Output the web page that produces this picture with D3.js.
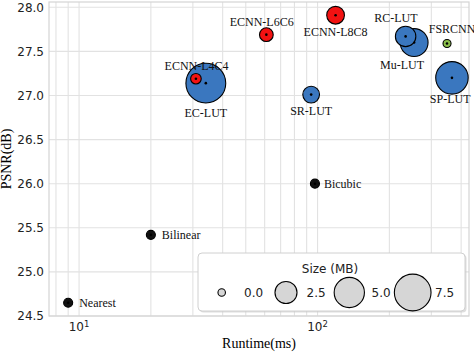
<!DOCTYPE html>
<meta charset="utf-8">
<script src="https://d3js.org/d3.v7.min.js"></script>
<style>
  body { margin: 0; background: #fff; }
</style>
<div id="chart"></div>
<script>

// data
var methods = ["Nearest", "Bilinear", "Bicubic", "SR-LUT", "Mu-LUT", "RC-LUT", "SP-LUT", "EC-LUT", "ECNN-L4C4", "ECNN-L6C6", "ECNN-L8C8", "FSRCNN"]
var runtime = [9.0, 20.0, 97.5, 94, 254, 234, 366, 34, 30.9, 61, 119, 349]
var psnr    = [24.65, 25.42, 26.00, 27.01, 27.60, 27.67, 27.20, 27.14, 27.19, 27.69, 27.91, 27.59]
var sizeMB  = [0.15, 0.15, 0.15, 1.3, 4.2, 2.1, 5.8, 8.9, 0.33, 0.77, 1.5, 0.05]
var kind    = ["interp", "interp", "interp", "lut", "lut", "lut", "lut", "lut", "ecnn", "ecnn", "ecnn", "cnn"]

var legendSizes = [0.0, 2.5, 5.0, 7.5]
var yTicks = [24.5, 25.0, 25.5, 26.0, 26.5, 27.0, 27.5, 28.0]
var xMajor = [10, 100]
var xMinor = [8, 9, 20, 30, 40, 50, 60, 70, 80, 90, 200, 300, 400]

var colors = { interp: "#111111", lut: "#3a77bf", ecnn: "#f21212", cnn: "#8cc04b" }

// where each label sits relative to its marker
var labelPos = {
  "Nearest":   { dx: 11,  dy: 4.5,  anchor: "start" },
  "Bilinear":  { dx: 11,  dy: 4.5,  anchor: "start" },
  "Bicubic":   { dx: 9,   dy: 4.5,  anchor: "start" },
  "SR-LUT":    { dx: 0,   dy: 20,   anchor: "middle" },
  "Mu-LUT":    { dx: -12, dy: 26.6, anchor: "middle" },
  "RC-LUT":    { dx: -9.7, dy: -14, anchor: "middle" },
  "SP-LUT":    { dx: -1.8, dy: 25.6, anchor: "middle" },
  "EC-LUT":    { dx: 0,   dy: 33.4, anchor: "middle" },
  "ECNN-L4C4": { dx: 0.7, dy: -8.7, anchor: "middle" },
  "ECNN-L6C6": { dx: -4.7, dy: -8.6, anchor: "middle" },
  "ECNN-L8C8": { dx: 0,   dy: 20.7, anchor: "middle" },
  "FSRCNN":    { dx: -18.3, dy: -10, anchor: "start" }
}

var data = methods.map(function(m, i) {
  return { name: m, t: runtime[i], p: psnr[i], s: sizeMB[i], k: kind[i] }
})

var W = 474, H = 353
var plot = { left: 49, right: 469, top: 2, bottom: 316 }

var svg = d3.select("#chart")
  .append("svg")
    .attr("width", W)
    .attr("height", H)

var x = d3.scaleLog()
  .domain([7.48, 431.5])
  .range([plot.left, plot.right])

var y = d3.scaleLinear()
  .domain([24.5, 28.06])
  .range([plot.bottom, plot.top])

// marker area grows with size
function rad(s) { return Math.sqrt(14 + 43 * s) }

var gridColor = "#e2e2e2"

// grid
svg.append("g").selectAll("line")
  .data(xMinor.concat(xMajor))
  .enter().append("line")
    .attr("x1", function(d) { return x(d) })
    .attr("x2", function(d) { return x(d) })
    .attr("y1", plot.top)
    .attr("y2", plot.bottom)
    .attr("stroke", gridColor)
    .attr("stroke-width", 1.1)

svg.append("g").selectAll("line")
  .data(yTicks)
  .enter().append("line")
    .attr("x1", plot.left)
    .attr("x2", plot.right)
    .attr("y1", function(d) { return y(d) })
    .attr("y2", function(d) { return y(d) })
    .attr("stroke", gridColor)
    .attr("stroke-width", 1.1)

// frame
svg.append("rect")
  .attr("x", plot.left)
  .attr("y", plot.top)
  .attr("width", plot.right - plot.left)
  .attr("height", plot.bottom - plot.top)
  .attr("fill", "none")
  .attr("stroke", "#d4d4d4")
  .attr("stroke-width", 1.2)

// y tick labels
svg.append("g").selectAll("text")
  .data(yTicks)
  .enter().append("text")
    .attr("x", plot.left - 5)
    .attr("y", function(d) { return y(d) })
    .attr("dy", "0.36em")
    .attr("text-anchor", "end")
    .style("font-family", "DejaVu Sans")
    .style("font-size", "12px")
    .style("fill", "#222")
    .text(function(d) { return d.toFixed(1) })

// x tick labels (10^n)
var xt = svg.append("g").selectAll("text")
  .data(xMajor)
  .enter().append("text")
    .attr("x", function(d) { return x(d) })
    .attr("y", plot.bottom + 15)
    .attr("text-anchor", "middle")
    .style("font-family", "DejaVu Sans")
    .style("font-size", "12px")
    .style("fill", "#222")
xt.append("tspan").text("10")
xt.append("tspan")
  .attr("dy", "-0.45em")
  .style("font-size", "8.5px")
  .text(function(d) { return Math.round(Math.log10(d)) })

// axis titles
svg.append("text")
  .attr("x", (plot.left + plot.right) / 2)
  .attr("y", 348)
  .attr("text-anchor", "middle")
  .style("font-family", "Liberation Serif")
  .style("font-size", "14px")
  .text("Runtime(ms)")

svg.append("text")
  .attr("transform", "translate(11," + ((plot.top + plot.bottom) / 2) + ") rotate(-90)")
  .attr("text-anchor", "middle")
  .style("font-family", "Liberation Serif")
  .style("font-size", "14px")
  .text("PSNR(dB)")

// markers
var pts = svg.append("g").selectAll("g")
  .data(data)
  .enter().append("g")
    .attr("transform", function(d) { return "translate(" + x(d.t) + "," + y(d.p) + ")" })

pts.append("circle")
  .attr("r", function(d) { return rad(d.s) })
  .attr("fill", function(d) { return colors[d.k] })
  .attr("stroke", "#000")
  .attr("stroke-width", 1.1)

pts.append("circle")
  .attr("r", 1.3)
  .attr("fill", "#000")

// labels
svg.append("g").selectAll("text")
  .data(data)
  .enter().append("text")
    .attr("x", function(d) { return x(d.t) + labelPos[d.name].dx })
    .attr("y", function(d) { return y(d.p) + labelPos[d.name].dy })
    .attr("text-anchor", function(d) { return labelPos[d.name].anchor })
    .style("font-family", "Liberation Serif")
    .style("font-size", "12px")
    .style("fill", "#111")
    .text(function(d) { return d.name })

// size legend
var lg = svg.append("g")

lg.append("rect")
  .attr("x", 199.5)
  .attr("y", 254.5)
  .attr("width", 267)
  .attr("height", 58)
  .attr("rx", 4)
  .attr("fill", "#c8c8c8")
  .attr("opacity", 0.6)

lg.append("rect")
  .attr("x", 198)
  .attr("y", 253)
  .attr("width", 267)
  .attr("height", 58)
  .attr("rx", 4)
  .attr("fill", "#fff")
  .attr("stroke", "#d0d0d0")
  .attr("stroke-width", 1)

lg.append("text")
  .attr("x", 330)
  .attr("y", 269)
  .attr("dy", "0.36em")
  .attr("text-anchor", "middle")
  .style("font-family", "DejaVu Sans")
  .style("font-size", "12px")
  .style("fill", "#222")
  .text("Size (MB)")

var legX = [221.7, 286, 349.3, 412.7]
var legTextX = [244, 306.5, 371.5, 435]
var item = lg.selectAll("g.item")
  .data(legendSizes)
  .enter().append("g")
    .attr("class", "item")

item.append("circle")
  .attr("cx", function(d, i) { return legX[i] })
  .attr("cy", 292.5)
  .attr("r", function(d) { return rad(d) })
  .attr("fill", "#d6d6d6")
  .attr("stroke", "#000")
  .attr("stroke-width", 1.1)

item.append("text")
  .attr("x", function(d, i) { return legTextX[i] })
  .attr("y", 292.5)
  .attr("dy", "0.36em")
  .style("font-family", "DejaVu Sans")
  .style("font-size", "12px")
  .style("fill", "#222")
  .text(function(d) { return d.toFixed(1) })

</script>
